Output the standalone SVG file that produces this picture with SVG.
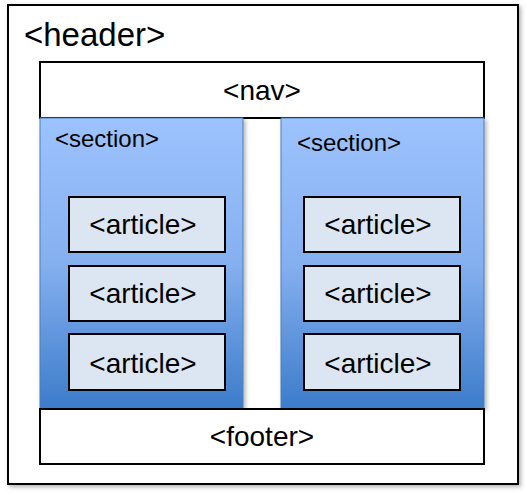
<svg xmlns="http://www.w3.org/2000/svg" width="527" height="495" viewBox="0 0 527 495">
<style>
text{font-family:"Liberation Sans","DejaVu Sans",sans-serif;fill:#000}
.box{fill:#fff;stroke:#000;stroke-width:2}
.sec{fill:url(#g);stroke:#4a7ebb;stroke-width:1}
.art{fill:#dce6f2;stroke:#000;stroke-width:2}
.lbl{font-size:28px;text-anchor:middle}
.slbl{font-size:24px}
</style>
<defs>
<linearGradient id="g" x1="0" y1="0" x2="0" y2="1">
<stop offset="0" stop-color="#9dc3fd"/>
<stop offset="0.5" stop-color="#85b0f0"/>
<stop offset="1" stop-color="#3d7cca"/>
</linearGradient>
<filter id="sh" x="-10%" y="-10%" width="120%" height="120%">
<feDropShadow dx="2" dy="2" stdDeviation="2" flood-color="#000" flood-opacity="0.3"/>
</filter>
</defs>
<g id="header">
<rect class="box" x="8" y="5" width="510" height="479" filter="url(#sh)"/>
<text x="24" y="46" style="font-size:33px">&lt;header&gt;</text>
</g>
<g id="nav">
<rect class="box" x="40" y="62" width="444" height="56"/>
<text class="lbl" x="262" y="100">&lt;nav&gt;</text>
</g>
<g id="section1">
<rect class="sec" x="40" y="118" width="203" height="290" filter="url(#sh)"/>
<text class="slbl" x="55" y="147">&lt;section&gt;</text>
</g>
<g id="section2">
<rect class="sec" x="281" y="118" width="203" height="290" filter="url(#sh)"/>
<text class="slbl" x="297" y="151">&lt;section&gt;</text>
</g>
<g id="article1">
<rect class="art" x="69" y="197" width="156" height="55"/>
<text class="lbl" x="143" y="234">&lt;article&gt;</text>
</g>
<g id="article2">
<rect class="art" x="69" y="266" width="156" height="55"/>
<text class="lbl" x="143" y="303">&lt;article&gt;</text>
</g>
<g id="article3">
<rect class="art" x="69" y="334" width="156" height="56"/>
<text class="lbl" x="143" y="373">&lt;article&gt;</text>
</g>
<g id="article4">
<rect class="art" x="304" y="197" width="156" height="55"/>
<text class="lbl" x="378" y="234">&lt;article&gt;</text>
</g>
<g id="article5">
<rect class="art" x="304" y="266" width="156" height="55"/>
<text class="lbl" x="378" y="303">&lt;article&gt;</text>
</g>
<g id="article6">
<rect class="art" x="304" y="334" width="156" height="56"/>
<text class="lbl" x="378" y="373">&lt;article&gt;</text>
</g>
<g id="footer">
<rect class="box" x="40" y="409" width="444" height="55"/>
<text class="lbl" x="262" y="446">&lt;footer&gt;</text>
</g>
<g id="connectors"/>
</svg>
